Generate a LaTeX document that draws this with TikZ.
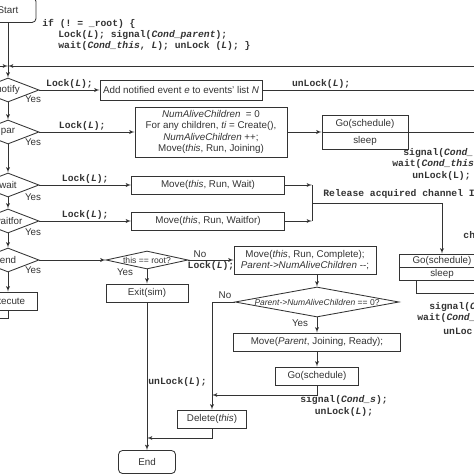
\documentclass[tikz,border=0pt]{standalone}
\usepackage{fontspec}
\setmainfont{Liberation Sans}
\setmonofont{Liberation Mono}
\usepackage{tikz}
\usetikzlibrary{positioning}
\usetikzlibrary{arrows,shapes.geometric,shapes.multipart}

\tikzset{
  dec/.style={diamond, draw, aspect=2.6, minimum width=62pt, minimum height=24pt, inner sep=0pt},
  box/.style={rectangle, draw, minimum height=18pt, inner sep=2pt},
  term/.style={rectangle, draw, rounded corners=4pt},
  gobox/.style={rectangle split, rectangle split parts=2, draw, minimum width=86pt, inner ysep=3.5pt},
  code/.style={font=\fontsize{9.7}{11.5}\ttfamily\bfseries, inner sep=1pt},
  lbl/.style={inner sep=1pt}
}

\begin{document}
\begin{tikzpicture}[->,>=latex',x=1pt,y=-1pt,line width=0.85pt,color=black!80,
        font=\fontsize{9.8}{11.3}\selectfont]

\useasboundingbox (0,0) rectangle (474,474);
\clip[-] (0,0) rectangle (474,474);

% left column
\node[term, minimum width=56pt, minimum height=25pt] (start) at (8,10) {Start};
\coordinate (j) at (8,66);
\coordinate (lf) at (-6,66);
\coordinate (rt) at (480,66);
\node[dec] (ntf) at (8,90) {notify};
\node[dec] (par) at (8,132) {par};
\node[dec] (wt) at (8,185) {wait};
\node[dec] (wtf) at (8,221) {waitfor};
\node[dec] (nd) at (8,260) {end};
\node[box, minimum width=58pt] (exe) at (8,301) {execute};
\coordinate (lf3) at (-6,318);

\node[code, anchor=west] (c1) at (41,24) {if (! = \_root) \{};
\node[code, anchor=west] (c2) at (57,35) {Lock(\textit{L}); signal(\textit{Cond\_parent});};
\node[code, anchor=west] (c3) at (57,46) {wait(\textit{Cond\_this}, \textit{L}); unLock (\textit{L}); \}};

% event boxes
\node[box, minimum width=162pt, minimum height=20pt] (add) at (181,90) {Add notified event \textit{e} to events' list \textit{N}};
\coordinate (rt2) at (480,90);
\node[box, minimum width=152pt, minimum height=50pt, align=center] (ini) at (211,132)
  {\textit{NumAliveChildren} \ = 0\\For any children, \textit{ti} = Create(),\\\textit{NumAliveChildren} ++;\\Move(\textit{this}, Run, Joining)};
\node[gobox] (go1) at (365,132) {Go(schedule)\nodepart{two}sleep};
\coordinate (rt3) at (480,132);
\node[box, minimum width=153pt] (mw) at (208,185) {Move(\textit{this}, Run, Wait)};
\node[box, minimum width=153pt] (mwf) at (208,221) {Move(\textit{this}, Run, Waitfor)};
\coordinate (bus) at (312,203);
\node[gobox, inner ysep=1.5pt] (go2) at (442,267) {Go(schedule)\nodepart{two}sleep};
\coordinate (rt4) at (480,293);

% end branch
\node[dec, aspect=4.5, minimum width=82pt, minimum height=18pt, font=\fontsize{8.6}{10}\selectfont] (root) at (147,260) {this == root?};
\node[box, minimum width=82pt] (exit) at (147,293) {Exit(sim)};
\node[term, minimum width=57pt, minimum height=23pt] (end) at (147,462) {End};
\node[box, minimum width=142pt, minimum height=28pt, align=center] (cmp) at (305,260)
  {Move(\textit{this}, Run, Complete);\\\textit{Parent->NumAliveChildren} -{}-;};
\node[dec, aspect=5.5, minimum width=164pt, minimum height=30pt, font=\fontsize{8.5}{10}\selectfont] (pq) at (317,302)
  {\textit{Parent->NumAliveChildren} == 0?};
\node[box, minimum width=167pt] (mpr) at (317,342) {Move(\textit{Parent}, Joining, Ready);};
\node[box, minimum width=83pt] (gos) at (317,376) {Go(schedule)};
\node[box, minimum width=69pt] (del) at (212,419) {Delete(\textit{this})};
\coordinate (m1) at (212,395);
\coordinate (m2) at (147,438);

% labels
\node[lbl] at ([shift={(25,9)}]ntf) {Yes};
\node[lbl] at ([shift={(25,10)}]par) {Yes};
\node[lbl] at ([shift={(25,12)}]wt) {Yes};
\node[lbl] at ([shift={(25,11)}]wtf) {Yes};
\node[lbl] at ([shift={(25,10)}]nd) {Yes};
\node[lbl] at ([shift={(-22,12)}]root) {Yes};
\node[lbl] at ([shift={(53,-6)}]root) {No};
\node[lbl] at ([shift={(-17,21)}]pq) {Yes};
\node[lbl] at ([shift={(-92,-7)}]pq) {No};

\node[code, anchor=west] at (402,153) {signal(\textit{Cond\_}};
\node[code, anchor=west] at (391,164) {wait(\textit{Cond\_this}};
\node[code, anchor=west] at (411,176) {unLock(L);};
\node[code, anchor=west] at (322,194) {Release acquired channel I};
\node[code, anchor=west] at (462,235) {ch};
\node[code, anchor=west] at (428,307) {signal(\textit{C}};
\node[code, anchor=west] at (416,318) {wait(\textit{Cond\_}};
\node[code, anchor=west] at (442,331) {unLoc};
\node[code, align=center] at (344,406) {signal(\textit{Cond\_s});\\unLock(\textit{L});};

% connectors
\draw (lf) -- (j);
\draw (rt) -- (j);
\path (start) edge (ntf)
      (ntf) edge (par)
      (par) edge (wt)
      (wt) edge (wtf)
      (wtf) edge (nd)
      (nd) edge (exe)
      (ntf) edge node[code, above] {Lock(\textit{L});} (add)
      (par) edge node[code, above, pos=0.45] {Lock(\textit{L});} (ini)
      (wt) edge node[code, above] {Lock(\textit{L});} (mw)
      (wtf) edge node[code, above] {Lock(\textit{L});} (mwf)
      (ini) edge (go1)
      (nd) edge (root)
      (root) edge (exit)
      (root) edge node[code, below] {Lock(\textit{L});} (cmp)
      (pq) edge (mpr)
      (mpr) edge (gos)
      (exit) edge node[code, right, pos=0.54] {unLock(\textit{L});} (end);
\draw[-] (add) -- node[code, above, pos=0.27] {unLock(\textit{L});} (rt2);
\draw[-] (go1) -- (rt3);
\draw[-] (exe.south) |- (lf3);
\draw (mw.east) -- (mw.east -| bus);
\draw (mwf.east) -- (mwf.east -| bus);
\draw[-] (mw.east -| bus) -- (mwf.east -| bus);
\draw (bus) -| (go2.north);
\draw[-] (go2.south west) ++(18,0) |- (rt4);
\draw (cmp.south -| pq.north) -- (pq.north);
\draw (pq.west) -| (del.north);
\draw (gos.south) |- (m1);
\draw (del.south) |- (m2);

\end{tikzpicture}
\end{document}
